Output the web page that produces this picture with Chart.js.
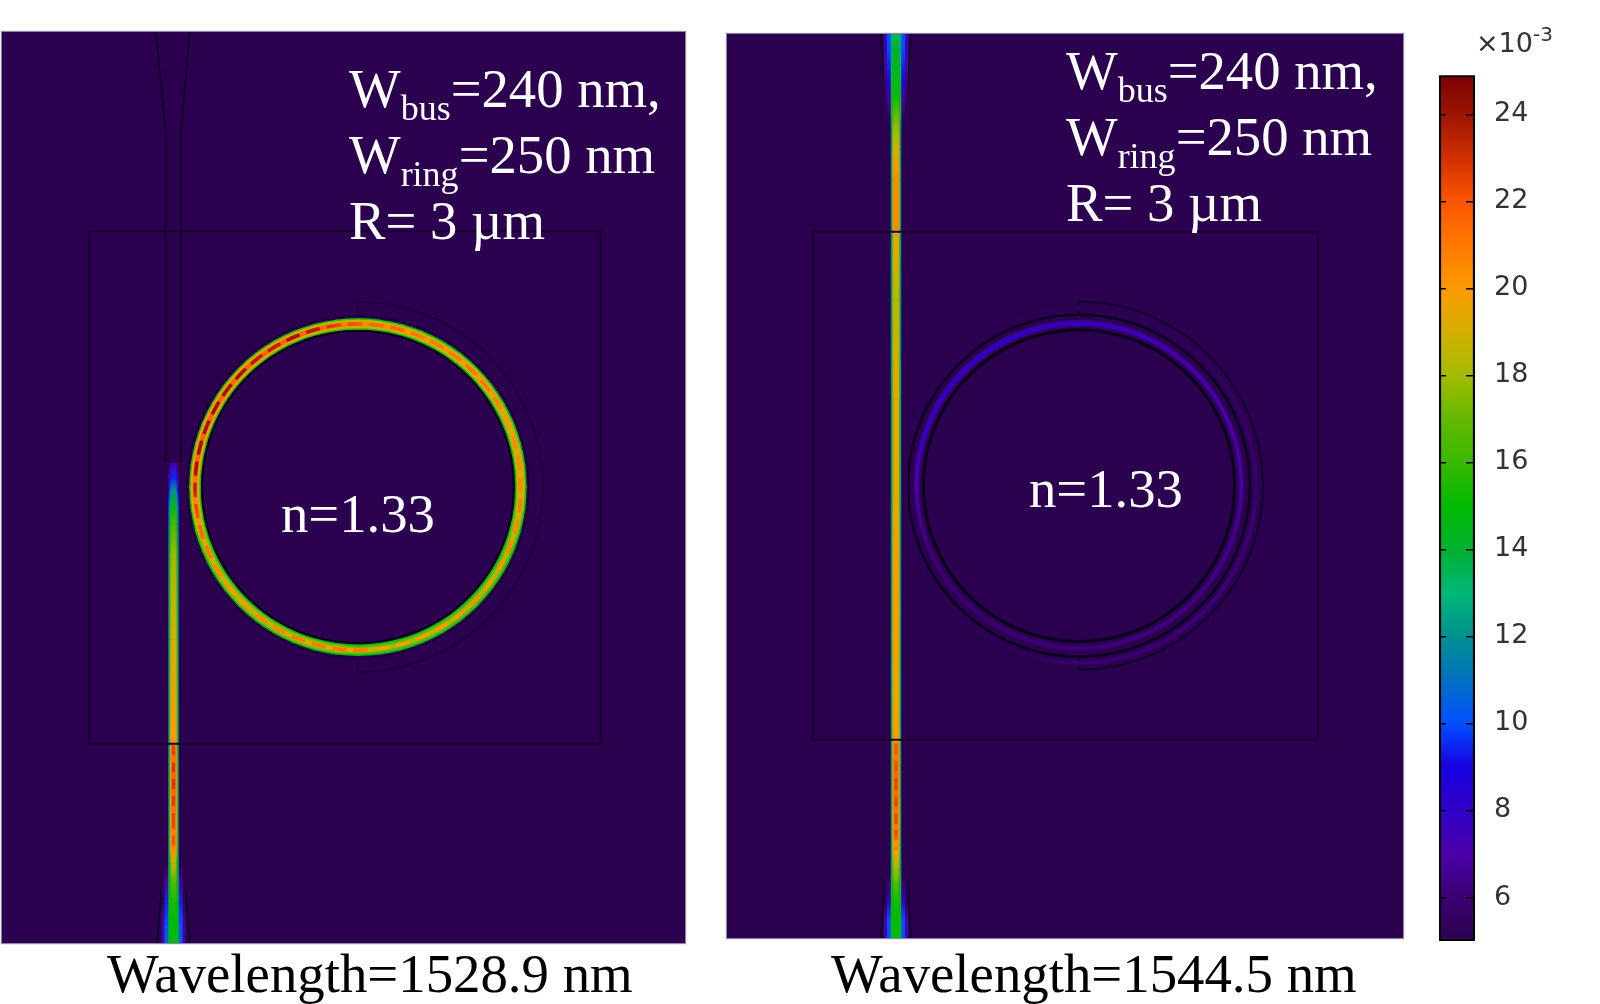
<!DOCTYPE html>
<html>
<head>
<meta charset="utf-8">
<title>Ring resonator field maps</title>
<script src="https://cdn.jsdelivr.net/npm/chart.js@4"></script>
<style>
    html, body { margin: 0; padding: 0; background: #fff; overflow: hidden; }
    #page { position: relative; width: 1600px; height: 1004px; overflow: hidden; }
    canvas { position: absolute; }
    .panel { box-shadow: 0 0 1px 1px #8f86a5; }
    .note, .caption { position: absolute; white-space: nowrap; font-family: "Liberation Serif", serif; line-height: 1; }
    .note { font-size: 54.7px; color: #fff; }
    .caption { font-size: 54.8px; color: #000; }
    .sub { font-size: 36px; vertical-align: -13px; line-height: 0; }
    #exponent { position: absolute; left: 1476px; top: 29px; white-space: nowrap; font-family: "DejaVu Sans", sans-serif; font-size: 27px; line-height: 1; color: #333; }
    #exponent sup { font-size: 20px; line-height: 0; vertical-align: 11px; }
</style>
</head>
<body>
<div id="page">
    <canvas id="panelLeft" class="panel" width="683" height="911" style="left:2px;top:32px"></canvas>
    <canvas id="panelRight" class="panel" width="676" height="904" style="left:727px;top:34px"></canvas>
    <canvas id="colorbar" width="110" height="940" style="left:1439px;top:40px"></canvas>

    <div class="note" style="left:349px;top:62px">W<span class="sub">bus</span>=240 nm,</div>
    <div class="note" style="left:349px;top:128px">W<span class="sub">ring</span>=250 nm</div>
    <div class="note" style="left:349px;top:194px">R= 3 µm</div>
    <div class="note" style="left:281px;top:487px">n=1.33</div>
    <div class="caption" style="left:107px;top:947px">Wavelength=1528.9 nm</div>

    <div class="note" style="left:1066px;top:44px">W<span class="sub">bus</span>=240 nm,</div>
    <div class="note" style="left:1066px;top:110px">W<span class="sub">ring</span>=250 nm</div>
    <div class="note" style="left:1066px;top:176px">R= 3 µm</div>
    <div class="note" style="left:1029px;top:462px">n=1.33</div>
    <div class="caption" style="left:831px;top:947px">Wavelength=1544.5 nm</div>

    <div id="exponent">×10<sup>-3</sup></div>
</div>

<script>
// colour scale (field in units of 1e-3)
const colorbarValues = [5, 6, 7, 8, 9, 10, 11, 12, 13, 14, 15, 16, 17, 18, 19, 20, 21, 22, 23, 24, 24.9];
const colorbarColors = ['#2b004f', '#3a0070', '#4a00a8', '#3000c8', '#1800e0', '#0050ff', '#0070c0', '#009090', '#00b878', '#00b030',
    '#00bb00', '#3ab800', '#64b800', '#a3bb00', '#d4b000', '#ff9a00', '#ff7800', '#ff5500', '#d03000', '#9c1500', '#7a0000'];
const colorbarTicks = [6, 8, 10, 12, 14, 16, 18, 20, 22, 24];
const backgroundField = 5;

// axis limits of the two panels, in um
const leftXLimits = [-6.553, 6.019];
const leftYLimits = [-8.387, 8.371];
const rightXLimits = [-6.479, 5.964];
const rightYLimits = [-8.32, 8.31];

// sample angles round the ring, degrees
const ringAngles = [0, 7.5, 15, 22.5, 30, 37.5, 45, 52.5, 60, 67.5, 75, 82.5, 90, 97.5, 105, 112.5, 120, 127.5, 135, 142.5, 150, 157.5, 165, 172.5,
    180, 187.5, 195, 202.5, 210, 217.5, 225, 232.5, 240, 247.5, 255, 262.5, 270, 277.5, 285, 292.5, 300, 307.5, 315, 322.5, 330, 337.5, 345, 352.5];
const arcAngles = [90, 82.5, 75, 67.5, 60, 52.5, 45, 37.5, 30, 22.5, 15, 7.5, 0, -7.5, -15, -22.5, -30, -37.5, -45, -52.5, -60, -67.5, -75, -82.5, -90];

// left ring field, 1528.9 nm
const ringLeftPeak = [20.5, 20.5, 20.5, 20, 20.5, 21, 21, 21, 21, 21, 21.5, 21.5, 22, 22.5, 23.5, 24, 23.5, 23.5, 24, 24, 24, 24, 24, 24,
    23.5, 22.5, 21.5, 21, 20.5, 20, 20, 20.5, 20.5, 21, 21, 21, 21, 19.5, 19.5, 20, 20, 20, 20.5, 20, 20, 20.5, 20.5, 21];
const ringLeftCore = [19.5, 19.5, 19.5, 19.5, 19.5, 20, 20, 20, 20, 20, 20, 20.5, 20.5, 21, 21.5, 21.5, 21.5, 21.5, 21.5, 21.5, 21.5, 21.5, 21.5, 21.5,
    21, 20.5, 19.5, 19, 18.5, 18.5, 18.5, 18.5, 18.5, 19, 19, 19, 19, 18, 18, 18, 18, 18, 18.5, 18, 18, 18.5, 18.5, 19];
const ringLeftMid = [18.5, 18.5, 18, 18, 18, 18.5, 18.5, 18.5, 18.5, 18.5, 18.5, 18.5, 18.5, 18.5, 19, 19, 19.5, 19.5, 19.5, 19.5, 19.5, 19.5, 19.5, 19.5,
    19, 19, 18, 17.5, 17.5, 17.5, 17.5, 17.5, 17.5, 17.5, 17.5, 17.5, 17, 17, 17, 17, 17, 17, 17, 17, 17, 17, 17.5, 18];
const ringLeftEdge = [15, 15, 14.5, 14.5, 14.5, 14.5, 15, 15, 15, 15, 15, 15.5, 16, 16, 16, 16, 16, 16, 16, 16, 16, 16, 16, 16,
    16, 15.5, 15, 15, 14.5, 14.5, 14.5, 14.5, 15, 15, 15, 15, 15, 14.5, 14.5, 14.5, 14.5, 14.5, 14.5, 14.5, 14.5, 14.5, 14.5, 15];

// right ring field, 1544.5 nm
const ringRightCore = [6.8, 6.8, 6.8, 7, 7, 7.3, 7.3, 7.4, 7.5, 7.6, 7.7, 7.8, 8, 8, 8, 8.3, 8.5, 8.5, 8.3, 8.2, 8, 8, 7.8, 7.4,
    7, 6.7, 6.4, 6.2, 6, 6, 6, 6, 6, 6.1, 6.1, 6.1, 6.2, 6.2, 6.2, 6.3, 6.3, 6.3, 6.3, 6.3, 6.4, 6.4, 6.5, 6.6];
const ringRightEdge = [5.6, 5.6, 5.6, 5.6, 5.6, 5.7, 5.8, 5.9, 6, 6, 6.1, 6.1, 6.2, 6.2, 6.2, 6.3, 6.3, 6.3, 6.3, 6.2, 6.2, 6.1, 6, 5.9,
    5.7, 5.5, 5.4, 5.3, 5.3, 5.3, 5.3, 5.3, 5.3, 5.3, 5.3, 5.3, 5.3, 5.3, 5.4, 5.4, 5.4, 5.4, 5.4, 5.4, 5.5, 5.5, 5.5, 5.6];
const ringRightOuter = [5.8, 5.8, 5.7, 5.6, 5.5, 5.4, 5.3, 5.2, 5.2, 5.1, 5.1, 5.1, 5.1, 5.1, 5.1, 5.1, 5.1, 5.1, 5.1, 5.1, 5.1, 5.1, 5.1, 5.1,
    5.1, 5.1, 5.1, 5.1, 5.1, 5.1, 5.1, 5.1, 5.1, 5.2, 5.3, 5.5, 5.9, 6, 6, 6, 6, 6.1, 6.1, 6.1, 6.1, 6, 6, 5.9];

// left bus waveguide rows, top to bottom
const busLeftY = [0.447, 0.171, -0.05, -0.325, -0.69, -1.33, -2.81, -3.9, -4.64, -4.75, -5.37, -6.1, -6.66, -6.93, -7.3, -7.66, -8.03, -8.39];
const busLeftFringe = [5, 5, 5, 5, 5, 5, 5, 5, 5, 5, 5, 5, 5, 5, 5, 5.5, 7, 7.5];
const busLeftOuter = [5, 5, 5, 5, 5, 5, 5, 5, 5, 5, 5, 5, 5, 5, 7, 9.5, 10, 10.5];
const busLeftEdge = [5, 7, 9, 10, 11, 12, 12, 12, 12, 12, 12, 12, 12, 12.5, 13.5, 14.5, 14.5, 14.5];
const busLeftMid = [6.5, 8, 10.5, 12.5, 14.5, 16, 17, 17.5, 17.5, 17.5, 18, 18, 17.5, 15.5, 14.5, 14.5, 14.5, 14.5];
const busLeftCore = [7, 9.5, 12, 14.5, 16.5, 18, 19, 19.5, 20, 21, 21.5, 21, 20.5, 18.5, 16.5, 15.5, 15, 15];
const busLeftPeakY = [-4.75, -5.37, -6.1, -6.66];
const busLeftPeak = [22.5, 23, 22.5, 22];

// right bus waveguide rows, top to bottom
const busRightY = [8.31, 8.03, 7.75, 7.39, 7.11, 6.84, 6.55, 6.18, 5.63, 4.71, 4.6, 3.42, 1.58, -0.26, -2.1, -3.94, -4.64, -4.75, -5.41, -6.33, -6.7, -7.06, -7.34, -7.62, -7.99, -8.32];
const busRightFringe = [7.5, 7.5, 7, 6, 5, 5, 5, 5, 5, 5, 5, 5, 5, 5, 5, 5, 5, 5, 5, 5, 5, 5, 5, 5, 7, 7.5];
const busRightOuter = [10, 10, 9.5, 8.5, 7, 5.5, 5, 5, 5, 5, 5, 5, 5, 5, 5, 5, 5, 5, 5, 5, 5, 5, 6, 8, 10, 10];
const busRightEdge = [12.5, 12.5, 13, 13.5, 13.5, 13, 12, 12, 12, 12, 12, 12, 12, 12, 12, 12, 12, 12, 12, 12, 12, 12.5, 13.5, 14.5, 14.5, 14.5];
const busRightMid = [13.5, 14, 14, 14.5, 15, 15.5, 16.5, 17.5, 17.5, 17.5, 17, 17, 17, 17, 17.5, 17.5, 17.5, 17.5, 18, 18, 17.5, 16, 15, 15, 14.5, 14.5];
const busRightCore = [13.5, 14, 14.5, 15, 15.5, 17, 18, 19, 20.5, 20.5, 19.5, 18.5, 19.5, 19.5, 20, 19.5, 20, 21, 21.5, 21, 20, 18, 16.5, 15.5, 15, 15];
const busRightPeakY = [-4.75, -5.41, -6.33, -6.7];
const busRightPeak = [22, 22.5, 22.5, 21];

// device outlines, um
const leftBox = { x: [-4.951, 4.465, 4.465, -4.951, -4.951], y: [4.708, 4.708, -4.724, -4.724, 4.708] };
const rightBox = { x: [-4.9, 4.4, 4.4, -4.9, -4.9], y: [4.67, 4.67, -4.675, -4.675, 4.67] };
const leftWalls = [
    { x: [-3.718, -3.54, -3.54, -3.7], y: [8.37, 6.52, -6.49, -8.39] },
    { x: [-3.1, -3.258, -3.258, -3.092], y: [8.37, 6.52, -6.49, -8.39] }
];
const rightWalls = [
    { x: [-3.644, -3.534, -3.534, -3.644], y: [8.31, 6.5, -6.52, -8.32] },
    { x: [-3.092, -3.203, -3.203, -3.092], y: [8.31, 6.5, -6.52, -8.32] }
];
const outlineColor = '#0e0024';
const boxColor = '#16002e';
const ringTension = 0.33;

function hexToRgb(hex) {
    const n = parseInt(hex.slice(1), 16);
    return [(n >> 16) & 255, (n >> 8) & 255, n & 255];
}

// colour of a field value on the colour bar
function fieldColor(value) {
    const last = colorbarValues.length - 1;
    if (value <= colorbarValues[0]) return colorbarColors[0];
    if (value >= colorbarValues[last]) return colorbarColors[last];
    let i = 0;
    while (value > colorbarValues[i + 1]) i++;
    const t = (value - colorbarValues[i]) / (colorbarValues[i + 1] - colorbarValues[i]);
    const a = hexToRgb(colorbarColors[i]);
    const b = hexToRgb(colorbarColors[i + 1]);
    const mix = a.map((c, k) => Math.round(c + (b[k] - c) * t));
    return `rgb(${mix[0]}, ${mix[1]}, ${mix[2]})`;
}

// every segment fades from the field of one sample to the field of the next
function segmentColor(ctx) {
    const points = ctx.chart.data.datasets[ctx.datasetIndex].data;
    const gradient = ctx.chart.ctx.createLinearGradient(ctx.p0.x, ctx.p0.y, ctx.p1.x, ctx.p1.y);
    gradient.addColorStop(0, fieldColor(points[ctx.p0DataIndex].field));
    gradient.addColorStop(1, fieldColor(points[ctx.p1DataIndex].field));
    return gradient;
}

function fieldLine(data, width, cap, dash) {
    return {
        data: data,
        showLine: true,
        pointRadius: 0,
        borderWidth: width,
        borderColor: fieldColor(backgroundField),
        borderCapStyle: cap,
        borderDash: dash || [],
        segment: { borderColor: segmentColor }
    };
}

function outline(data, width, color) {
    return { data: data, showLine: true, pointRadius: 0, borderWidth: width, borderColor: color, borderCapStyle: 'butt' };
}

function polar(radius, angle) {
    const a = angle * Math.PI / 180;
    return { x: radius * Math.cos(a), y: radius * Math.sin(a) };
}

function ringField(radius, fields, width, dash) {
    const points = ringAngles.map((angle, i) => ({ ...polar(radius, angle), field: fields[i] }));
    points.push({ ...points[0] });
    return { ...fieldLine(points, width, dash ? 'butt' : 'round', dash), tension: ringTension };
}

function ringOutline(radius, width, color) {
    const points = ringAngles.map(angle => polar(radius, angle));
    points.push({ ...points[0] });
    return { ...outline(points, width, color), tension: ringTension };
}

function couplerArc(radius, stub, width, color) {
    const points = arcAngles.map(angle => polar(radius, angle));
    return [
        { ...outline(points, width, color), tension: ringTension },
        outline([{ x: 0, y: stub }, points[0]], width, color),
        outline([{ x: 0, y: -stub }, points[points.length - 1]], width, color)
    ];
}

function busField(x, rows, fields, width, dash) {
    return fieldLine(rows.map((y, i) => ({ x: x, y: y, field: fields[i] })), width, 'butt', dash);
}

function polyline(shape, width, color) {
    return outline(shape.x.map((x, i) => ({ x: x, y: shape.y[i] })), width, color);
}

function createFieldChart(canvasId, xLimits, yLimits, datasets) {
    const canvas = document.getElementById(canvasId);
    canvas.style.background = fieldColor(backgroundField);
    // later datasets are painted on top
    datasets.forEach((dataset, i) => { dataset.order = -i; });
    return new Chart(canvas, {
        type: 'scatter',
        data: { datasets: datasets },
        options: {
            responsive: false,
            animation: false,
            layout: { padding: 0 },
            plugins: { legend: { display: false }, tooltip: { enabled: false } },
            scales: {
                x: { type: 'linear', min: xLimits[0], max: xLimits[1], display: false },
                y: { type: 'linear', min: yLimits[0], max: yLimits[1], display: false }
            }
        }
    });
}

createFieldChart('panelLeft', leftXLimits, leftYLimits, [
    polyline(leftWalls[0], 1.6, outlineColor),
    polyline(leftWalls[1], 1.6, outlineColor),
    ...couplerArc(3.405, 3.15, 1.6, '#1a0038'),
    ringOutline(3.147, 1.5, '#1a0038'),
    ringOutline(2.871, 2.5, outlineColor),
    busField(-3.396, busLeftY, busLeftFringe, 24),
    busField(-3.396, busLeftY, busLeftOuter, 18),
    busField(-3.396, busLeftY, busLeftEdge, 10.5),
    busField(-3.396, busLeftY, busLeftMid, 8),
    busField(-3.396, busLeftY, busLeftCore, 5.5),
    busField(-3.396, busLeftPeakY, busLeftPeak, 3, [10, 7]),
    ringField(3, ringLeftEdge, 11.5),
    ringField(3, ringLeftMid, 8.5),
    ringField(3, ringLeftCore, 4.5),
    ringField(3, ringLeftPeak, 3.5, [10, 7]),
    polyline(leftBox, 2, boxColor)
]);

createFieldChart('panelRight', rightXLimits, rightYLimits, [
    polyline(rightWalls[0], 1.6, outlineColor),
    polyline(rightWalls[1], 1.6, outlineColor),
    ...couplerArc(3.387, 3.15, 2, '#14002e'),
    ringField(3.26, ringRightOuter, 4),
    ringOutline(3.147, 2.5, '#0c0020'),
    ringOutline(2.864, 3, '#0a001c'),
    ringField(2.99, ringRightEdge, 7),
    ringField(2.99, ringRightCore, 3.5),
    busField(-3.368, busRightY, busRightFringe, 24),
    busField(-3.368, busRightY, busRightOuter, 18),
    busField(-3.368, busRightY, busRightEdge, 10.5),
    busField(-3.368, busRightY, busRightMid, 8),
    busField(-3.368, busRightY, busRightCore, 5.5),
    busField(-3.368, busRightPeakY, busRightPeak, 3, [10, 7]),
    polyline(rightBox, 2, boxColor)
]);

// colour bar: one floating bar painted with the colour scale
new Chart(document.getElementById('colorbar'), {
    type: 'bar',
    data: {
        labels: ['field'],
        datasets: [{
            data: [[colorbarValues[0], colorbarValues[colorbarValues.length - 1]]],
            barPercentage: 1,
            categoryPercentage: 1,
            borderColor: '#000',
            borderWidth: 2.5,
            borderSkipped: false,
            backgroundColor: ctx => {
                const y = ctx.chart.scales.y;
                const first = colorbarValues[0];
                const span = colorbarValues[colorbarValues.length - 1] - first;
                const bottom = y ? y.getPixelForValue(first) : NaN;
                const top = y ? y.getPixelForValue(first + span) : NaN;
                // scale has no pixels yet during the first pass
                if (!isFinite(bottom) || !isFinite(top)) return '#000';
                const gradient = ctx.chart.ctx.createLinearGradient(0, bottom, 0, top);
                colorbarValues.forEach((v, i) => gradient.addColorStop((v - first) / span, colorbarColors[i]));
                return gradient;
            }
        }]
    },
    options: {
        responsive: false,
        animation: false,
        layout: { padding: { top: 31.2, bottom: 39 } },
        plugins: { legend: { display: false }, tooltip: { enabled: false } },
        scales: {
            x: { display: false },
            y: {
                position: 'right',
                min: colorbarValues[0],
                max: colorbarValues[colorbarValues.length - 1],
                afterBuildTicks: scale => { scale.ticks = colorbarTicks.map(v => ({ value: v })); },
                afterFit: scale => { scale.width = 74; },
                ticks: {
                    padding: 19,
                    color: '#333',
                    font: { family: 'DejaVu Sans', size: 27 }
                },
                border: { display: false, dash: [7, 20, 9] },
                grid: { z: 1, color: '#000', lineWidth: 1.5, drawTicks: false }
            }
        }
    }
});
</script>
</body>
</html>
